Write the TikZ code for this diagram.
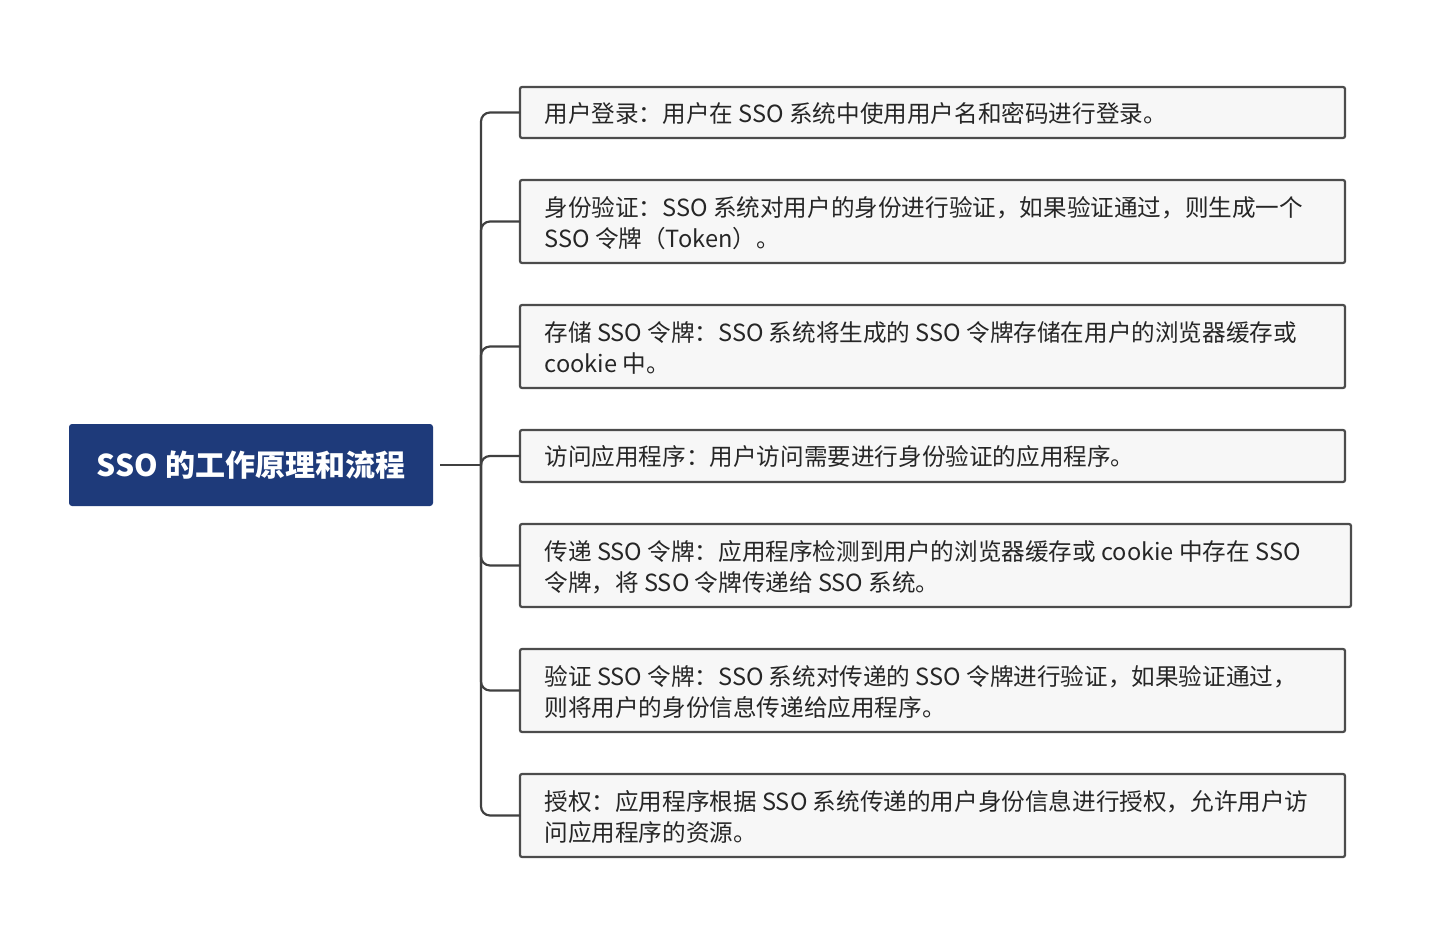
\documentclass[tikz,border=0pt]{standalone}
\usepackage{fontspec}
\setmainfont{Noto Sans CJK SC}
\begin{document}
\begin{tikzpicture}[x=1pt,y=-1pt,
  bx/.style={draw=black!70,line width=2.2pt,fill=black!3,rounded corners=2pt,anchor=north west,inner sep=0pt},
  tx/.style={anchor=west,font=\fontsize{23.6}{31}\selectfont,text=black!85,align=left},
  conn/.style={draw=black!75,line width=2.2pt,rounded corners=9pt}]
\useasboundingbox (0,0) rectangle (1450,944);
\node[fill={rgb,255:red,30;green,58;blue,122},rounded corners=3pt,minimum width=364pt,minimum height=82pt,inner sep=0pt,text=white,font=\fontsize{30}{34}\selectfont\bfseries] (root) at (251,465) {SSO 的工作原理和流程};
\coordinate (j) at (481,465);
\foreach \n/\ya/\yb/\xr in {1/87/138/1345,2/180/263/1345,3/305/388/1345,4/430/482/1345,5/524/607/1351,6/649/732/1345,7/774/857/1345}{
  \draw[bx] (520,\ya) rectangle (\xr,\yb);
  \coordinate (b\n) at (520,{(\ya+\yb)/2});
  \draw[conn] (j) |- (b\n);
}
\draw[conn] (440,465) -- (j);
\node[tx] (t1) at (541,113) {用户登录：用户在 SSO 系统中使用用户名和密码进行登录。};
\node[tx] (t2) at (541,223) {身份验证：SSO 系统对用户的身份进行验证，如果验证通过，则生成一个\\SSO 令牌（Token）。};
\node[tx] (t3) at (541,348) {存储 SSO 令牌：SSO 系统将生成的 SSO 令牌存储在用户的浏览器缓存或\\cookie 中。};
\node[tx] (t4) at (541,457) {访问应用程序：用户访问需要进行身份验证的应用程序。};
\node[tx] (t5) at (541,567) {传递 SSO 令牌：应用程序检测到用户的浏览器缓存或 cookie 中存在 SSO\\令牌，将 SSO 令牌传递给 SSO 系统。};
\node[tx] (t6) at (541,692) {验证 SSO 令牌：SSO 系统对传递的 SSO 令牌进行验证，如果验证通过，\\则将用户的身份信息传递给应用程序。};
\node[tx] (t7) at (541,817) {授权：应用程序根据 SSO 系统传递的用户身份信息进行授权，允许用户访\\问应用程序的资源。};
\end{tikzpicture}
\end{document}
